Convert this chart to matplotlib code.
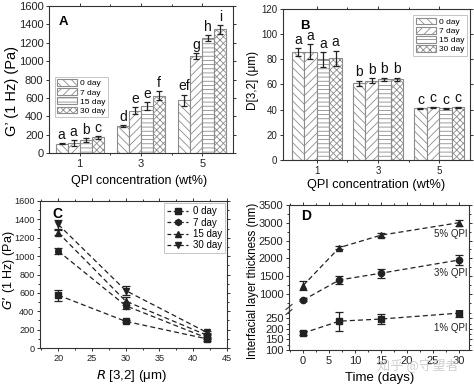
import matplotlib
matplotlib.use("Agg")
import matplotlib.pyplot as plt
import numpy as np
from matplotlib.ticker import AutoMinorLocator, MultipleLocator, FixedLocator
from matplotlib.lines import Line2D

plt.rcParams['font.family'] = ['Liberation Sans', 'DejaVu Sans']
plt.rcParams['hatch.linewidth'] = 0.6
plt.rcParams['axes.linewidth'] = 0.8

# ---------------- data ----------------
days = ["0 day", "7 day", "15 day", "30 day"]
conc = [1, 3, 5]

# Panel A: G' (1 Hz) (Pa)
g_vals = [[100, 110, 140, 170],
          [290, 460, 510, 625],
          [575, 1055, 1250, 1345]]
g_errs = [[5, 30, 20, 15],
          [10, 40, 45, 45],
          [60, 30, 30, 45]]
g_letters = [["a", "a", "b", "c"],
             ["d", "e", "e", "f"],
             ["ef", "g", "h", "i"]]

# Panel B: D[3,2] (um)
d_vals = [[86, 86, 80, 81],
          [61, 63, 64, 64],
          [41, 42, 41, 42]]
d_errs = [[3, 6, 6, 6],
          [2, 2, 1.5, 1.5],
          [0.5, 0.5, 0.5, 0.5]]
d_letters = [["a", "a", "a", "a"],
             ["b", "b", "b", "b"],
             ["c", "c", "c", "c"]]

# Panel C: G' vs R[3,2]
r32 = [20, 30, 42]
c_vals = {"0 day": [575, 290, 100],
          "7 day": [1055, 460, 110],
          "15 day": [1255, 510, 140],
          "30 day": [1345, 625, 170]}
c_errs = {"0 day": [60, 10, 5],
          "7 day": [30, 40, 30],
          "15 day": [30, 45, 20],
          "30 day": [45, 45, 15]}
c_markers = {"0 day": "s", "7 day": "h", "15 day": "^", "30 day": "v"}

# Panel D: interfacial layer thickness (nm)
time_days = [0, 7, 15, 30]
d_thick = {"1% QPI": [180, 237, 247, 275],
           "3% QPI": [820, 1390, 1580, 1950],
           "5% QPI": [1230, 2300, 2650, 3000]}
d_thick_err = {"1% QPI": [8, 45, 25, 20],
               "3% QPI": [30, 120, 130, 130],
               "5% QPI": [130, 50, 50, 80]}
d_markers = {"1% QPI": "s", "3% QPI": "o", "5% QPI": "^"}
d_label_pos = {"1% QPI": 205, "3% QPI": 1585, "5% QPI": 2680}

hatches = ["\\\\\\\\", "////", "----", "xxxxx"]
W, H = 474, 386
fig = plt.figure(figsize=(W / 100, H / 100), dpi=100)

spine_c = "#333333"
hatch_c = "#8c8c8c"


def style_axes(ax, ls, right=True, top=True):
    for s in ax.spines.values():
        s.set_color(spine_c)
    ax.tick_params(axis='both', which='both', direction='out', colors=spine_c,
                   labelcolor='#222222', labelsize=ls, width=0.7, pad=1.5)
    ax.tick_params(which='major', length=2.5)
    ax.tick_params(which='minor', length=1.5)
    if right:
        ax.tick_params(axis='y', which='both', right=True, labelright=False)
    if top:
        ax.tick_params(axis='x', which='both', top=True, labeltop=False)


def ax_rect(l, t, r, b):
    return [l / W, 1 - b / H, (r - l) / W, (b - t) / H]


def label_at(ax, which, text, px, py, l, t, r, b, fs):
    # place axis label centre at pixel (px, py)
    x = (px - l) / (r - l)
    y = (b - py) / (b - t)
    if which == 'x':
        ax.set_xlabel(text, fontsize=fs, va='center')
        ax.xaxis.set_label_coords(x, y)
    else:
        ax.set_ylabel(text, fontsize=fs, va='center')
        ax.yaxis.set_label_coords(x, y)


def bar_panel(ax, vals, errs, letters, width, letter_off, fs):
    n = len(days)
    for j in range(n):
        xs = [c + (j - (n - 1) / 2) * width for c in conc]
        ys = [vals[i][j] for i in range(len(conc))]
        es = [errs[i][j] for i in range(len(conc))]
        ax.bar(xs, ys, width=width, color='white', edgecolor=hatch_c,
               hatch=hatches[j], linewidth=0.8, label=days[j], zorder=2)
        ax.errorbar(xs, ys, yerr=es, fmt='none', ecolor='#222222',
                    elinewidth=0.9, capsize=2.5, capthick=0.9, zorder=3)
        for i in range(len(conc)):
            ax.text(xs[i], ys[i] + es[i] + letter_off, letters[i][j],
                    ha='center', va='bottom', fontsize=fs, color='#111111')


# ---------------- Panel A ----------------
A = (49, 6, 233, 153)
axA = fig.add_axes(ax_rect(*A))
bar_panel(axA, g_vals, g_errs, g_letters, 0.39, 15, 10)
axA.set_xlim(0, 6)
axA.set_ylim(0, 1600)
axA.set_xticks(conc)
axA.xaxis.set_minor_locator(FixedLocator([2, 4]))
axA.yaxis.set_major_locator(MultipleLocator(200))
style_axes(axA, 8)
label_at(axA, 'y', "G’ (1 Hz) (Pa)", 12, 91, *A, 10.5)
label_at(axA, 'x', "QPI concentration (wt%)", 139, 181, *A, 9)
axA.text(0.055, 0.93, "A", transform=axA.transAxes, fontsize=9.5,
         fontweight='bold', va='top')
legA = axA.legend(loc='upper left', bbox_to_anchor=(0.03, 0.52), fontsize=6,
                  frameon=True, fancybox=False, edgecolor='#aaaaaa',
                  handlelength=2.4, handleheight=0.9, borderpad=0.3,
                  labelspacing=0.1, handletextpad=0.4, borderaxespad=0)
legA.get_frame().set_linewidth(0.6)

# ---------------- Panel B ----------------
B = (283, 9, 470, 160)
axB = fig.add_axes(ax_rect(*B))
bar_panel(axB, d_vals, d_errs, d_letters, 0.41, 1.0, 10)
axB.set_xlim(-0.1, 6.0)
axB.set_ylim(0, 120)
axB.set_xticks(conc)
axB.xaxis.set_minor_locator(FixedLocator([2, 4]))
axB.yaxis.set_major_locator(MultipleLocator(20))
style_axes(axB, 7)
label_at(axB, 'y', "D[3,2] (μm)", 253, 80, *B, 8.5)
label_at(axB, 'x', "QPI concentration (wt%)", 376, 185, *B, 9.2)
axB.text(0.09, 0.93, "B", transform=axB.transAxes, fontsize=9.5,
         fontweight='bold', va='top')
legB = axB.legend(loc='upper right', bbox_to_anchor=(0.985, 0.96), fontsize=6,
                  frameon=True, fancybox=False, edgecolor='#aaaaaa',
                  handlelength=2.4, handleheight=0.9, borderpad=0.3,
                  labelspacing=0.1, handletextpad=0.4, borderaxespad=0)
legB.get_frame().set_linewidth(0.6)

# ---------------- Panel C ----------------
C = (40, 201, 227, 348)
axC = fig.add_axes(ax_rect(*C))
for d in days:
    axC.errorbar(r32, c_vals[d], yerr=c_errs[d], fmt=c_markers[d] + '--',
                 color='#222222', ms=4.5, lw=0.9, dashes=(4, 2.5),
                 elinewidth=0.9, capsize=3, capthick=0.9, label=d)
axC.set_xlim(17.3, 45)
axC.set_ylim(0, 1600)
axC.xaxis.set_major_locator(MultipleLocator(5))
axC.xaxis.set_minor_locator(AutoMinorLocator(2))
axC.yaxis.set_major_locator(MultipleLocator(200))
axC.yaxis.set_minor_locator(AutoMinorLocator(2))
style_axes(axC, 6.6)
label_at(axC, 'y', "$G$’ (1 Hz) (Pa)", 9, 270, *C, 9)
label_at(axC, 'x', "$R$ [3,2] (μm)", 132, 376, *C, 9.5)
axC.text(0.065, 0.96, "C", transform=axC.transAxes, fontsize=10,
         fontweight='bold', va='top')
handles = [Line2D([], [], color='#222222', ls='--', dashes=(3, 2), lw=0.9,
                  marker=c_markers[d], ms=4.5) for d in days]
legC = axC.legend(handles, days, loc='upper right', bbox_to_anchor=(0.99, 0.985),
                  fontsize=7, frameon=True, fancybox=False, edgecolor='#aaaaaa',
                  handlelength=2.2, borderpad=0.3, labelspacing=0.15,
                  handletextpad=0.5, borderaxespad=0)
legC.get_frame().set_linewidth(0.6)

# ---------------- Panel D (broken axis) ----------------
brk = 310
DU = (289, 205, 469, brk)
DL = (289, brk, 469, 350)
axDu = fig.add_axes(ax_rect(*DU))
axDl = fig.add_axes(ax_rect(*DL), sharex=axDu)
for key in d_thick:
    for ax in (axDu, axDl):
        ax.errorbar(time_days, d_thick[key], yerr=d_thick_err[key],
                    fmt=d_markers[key] + '--', color='#222222', ms=4.5, lw=0.9,
                    dashes=(4, 2.5), elinewidth=0.9, capsize=3, capthick=0.9,
                    clip_on=True)
axDu.set_ylim(545, 3500)
axDl.set_ylim(100, 290)
axDu.set_xlim(-2.7, 32)
axDu.yaxis.set_major_locator(FixedLocator([1000, 1500, 2000, 2500, 3000, 3500]))
axDu.yaxis.set_minor_locator(FixedLocator(np.arange(750, 3500, 250)))
axDl.yaxis.set_major_locator(FixedLocator([100, 150, 200, 250]))
axDl.yaxis.set_minor_locator(FixedLocator([125, 175, 225, 275]))
axDl.xaxis.set_major_locator(MultipleLocator(5))
axDl.xaxis.set_minor_locator(AutoMinorLocator(2))
style_axes(axDu, 8)
style_axes(axDl, 8)
axDu.spines['bottom'].set_visible(False)
axDl.spines['top'].set_visible(False)
axDu.tick_params(axis='x', which='both', bottom=False, labelbottom=False)
axDl.tick_params(axis='x', which='both', top=False)
label_at(axDl, 'x', "Time (days)", 380, 378, *DL, 9.5)
fig.text(253 / W, 1 - 281 / H, "Interfacial layer thickness (nm)",
         rotation=90, fontsize=8.3, ha='center', va='center')
axDu.text(0.07, 0.96, "D", transform=axDu.transAxes, fontsize=10,
          fontweight='bold', va='top')
for key, y in d_label_pos.items():
    ax = axDl if key == "1% QPI" else axDu
    ax.text(28.4, y, key, fontsize=7, ha='center', va='center', color='#222222')
# break marks on left spine
bx = 289 / W
for dy in (-3, 2):
    y0 = 1 - (brk + dy) / H
    fig.add_artist(Line2D([bx - 3 / W, bx + 3 / W], [y0 - 2.5 / H, y0 + 2.5 / H],
                          color=spine_c, lw=0.8))

# watermark
fig.text(418 / W, 1 - 366 / H, "知乎 @守望者", fontsize=9.5, color='#c4c4c4',
         alpha=0.8, family=['Noto Sans CJK SC', 'DejaVu Sans'],
         ha='center', va='center')

fig.savefig("out.png", dpi=100)
